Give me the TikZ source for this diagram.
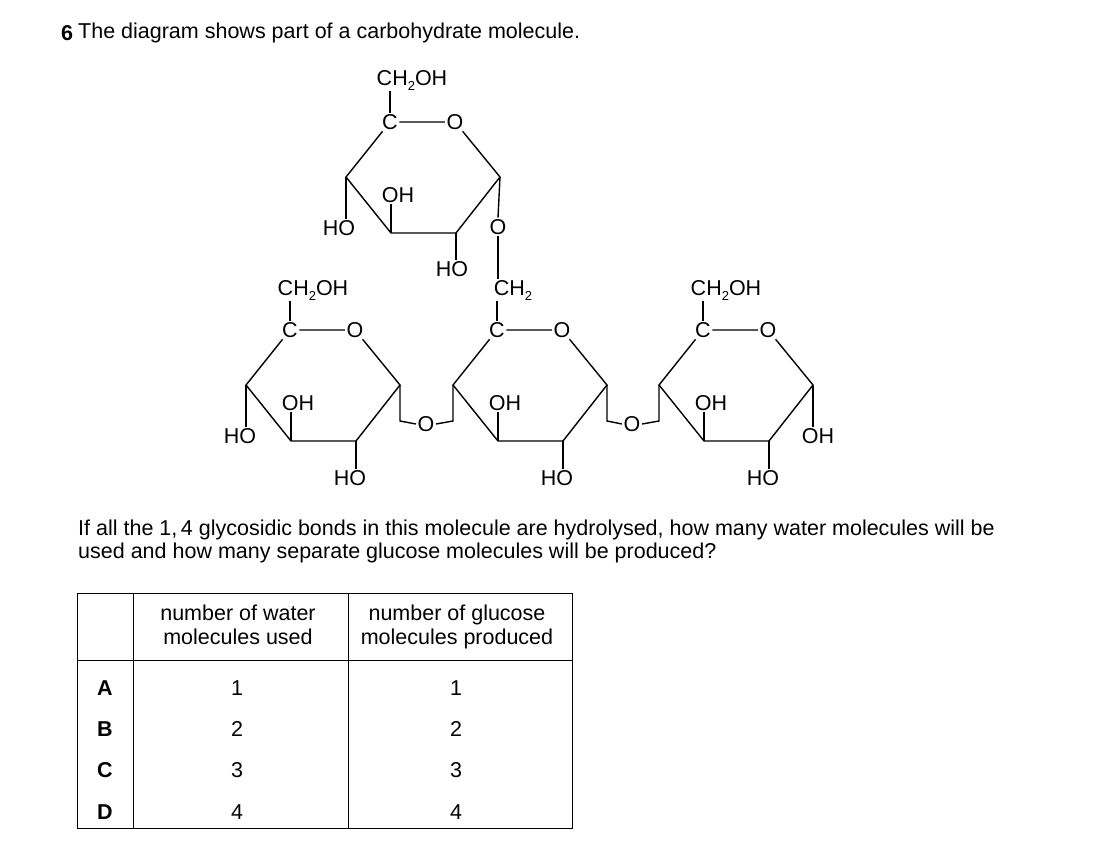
\documentclass[tikz,border=0pt]{standalone}
\usepackage{fontspec}
\setmainfont{Liberation Sans}
\begin{document}
\begin{tikzpicture}[x=1pt,y=-1pt,
  every node/.style={font=\fontsize{21.5}{25}\selectfont, inner sep=1pt},
  bond/.style={line width=1.4pt},
  atom/.style={inner sep=1.5pt}]
\useasboundingbox (0,0) rectangle (1112,862);
\newcommand\chtwo{CH\raisebox{-5pt}{\fontsize{13}{13}\selectfont 2}}
\newcommand\ringat[3]{%
  \node[atom] (#1C) at (#2,#3) {C};
  \node[atom] (#1O) at (#2+65,#3) {O};
  \coordinate (#1Lv) at (#2-44,#3+55);
  \coordinate (#1BL) at (#2+1,#3+111);
  \coordinate (#1BR) at (#2+66,#3+111);
  \coordinate (#1Rv) at (#2+110,#3+55);
  \node (#1OH) at (#2+8,#3+73) {OH};
  \draw[bond] (#1C) -- (#1O) -- (#1Rv) -- (#1BR) -- (#1BL) -- (#1Lv) -- (#1C);
  \draw[bond] (#1BL) -- (#1BL |- #1OH.south);
}
\node[font=\bfseries\fontsize{21.5}{25}\selectfont] (num) at (67,33) {6};
\node[anchor=west] (title) at (77,33) {The diagram shows part of a carbohydrate molecule.};
% top ring
\ringat{t}{390}{122}
\node (tHOa) at (339,228) {HO};
\draw[bond] (tLv) -- (tLv |- tHOa.north);
\node (tCH) at (412,80) {\chtwo OH};
\draw[bond] (tC.north) -- (tC.north |- tCH.south);
\node (tHOb) at (452,269) {HO};
\draw[bond] (tBR) -- (tBR |- tHOb.north);
\node[atom] (tOl) at (498,227) {O};
\node (mCH) at (513,290) {\chtwo};
\draw[bond] (tRv) -- (tOl.north);
\draw[bond] (tOl.south) -- (tOl.south |- mCH.north);
% bottom rings
\ringat{l}{290}{330}
\ringat{m}{497}{330}
\ringat{r}{703}{330}
\node (lHOa) at (240,436) {HO};
\draw[bond] (lLv) -- (lLv |- lHOa.north);
\node (lCH) at (313,290) {\chtwo OH};
\draw[bond] (lC.north) -- (lC.north |- lCH.south);
\draw[bond] (mC.north) -- (mC.north |- mCH.south);
\node (rCH) at (726,290) {\chtwo OH};
\draw[bond] (rC.north) -- (rC.north |- rCH.south);
\node (lHOb) at (350,478) {HO};
\node (mHOb) at (557,478) {HO};
\node (rHOb) at (763,478) {HO};
\draw[bond] (lBR) -- (lBR |- lHOb.north);
\draw[bond] (mBR) -- (mBR |- mHOb.north);
\draw[bond] (rBR) -- (rBR |- rHOb.north);
\node (rOHr) at (818,436) {OH};
\draw[bond] (rRv) -- (rRv |- rOHr.north);
% glycosidic links
\node[atom] (g1) at (426,424) {O};
\node[atom] (g2) at (632,424) {O};
\coordinate (g1a) at (400,421);
\coordinate (g1b) at (453,421);
\coordinate (g2a) at (607,421);
\coordinate (g2b) at (659,421);
\draw[bond] (lRv) -- (g1a) -- (g1.west);
\draw[bond] (g1.east) -- (g1b) -- (mLv);
\draw[bond] (mRv) -- (g2a) -- (g2.west);
\draw[bond] (g2.east) -- (g2b) -- (rLv);
% question
\node[anchor=west] (q1) at (77,530) {If all the 1,\,4 glycosidic bonds in this molecule are hydrolysed, how many water molecules will be};
\node[anchor=west] (q2) at (77,553) {used and how many separate glucose molecules will be produced?};
% table
\draw[line width=0.8pt] (77,593) rectangle (572,828);
\draw[line width=0.8pt] (133,593) -- (133,828);
\draw[line width=0.8pt] (348,593) -- (348,828);
\draw[line width=0.8pt] (77,660) -- (572,660);
\node (h1) at (238,627) {\begin{tabular}{@{}c@{}}number of water\\[-1pt]molecules used\end{tabular}};
\node (h2) at (457,627) {\begin{tabular}{@{}c@{}}number of glucose\\[-1pt]molecules produced\end{tabular}};
\foreach \l/\v/\y in {A/1/688,B/2/729,C/3/770,D/4/812}{
  \node[font=\bfseries\fontsize{21.5}{25}\selectfont] (L\l) at (105,\y) {\l};
  \node (W\l) at (237,\y) {\v};
  \node (G\l) at (456,\y) {\v};
}
\end{tikzpicture}
\end{document}
